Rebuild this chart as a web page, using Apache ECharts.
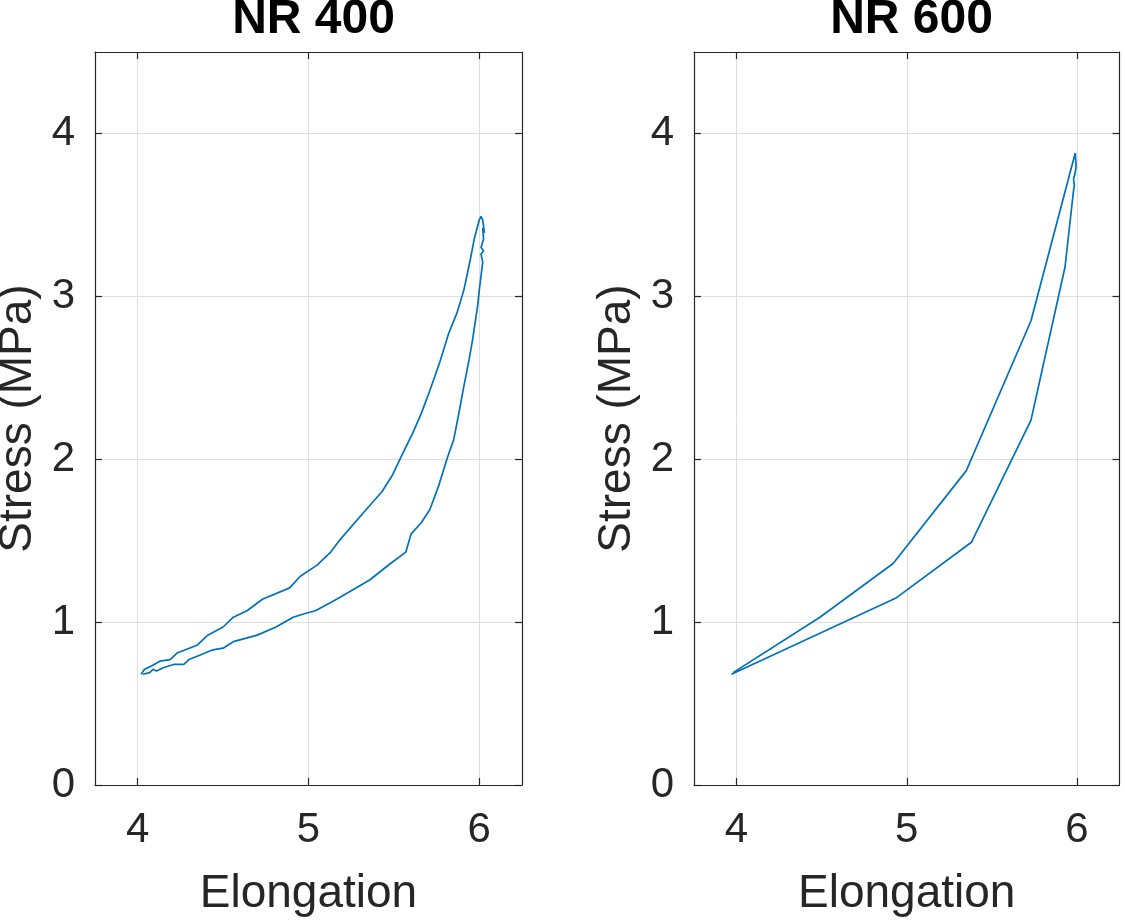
<!DOCTYPE html>
<html>
<head>
<meta charset="utf-8">
<script src="https://cdn.jsdelivr.net/npm/echarts@6/dist/echarts.min.js"></script>
<style>html,body{margin:0;padding:0;background:#fff}#c{width:1125px;height:923px}</style>
</head>
<body>
<div id="c"></div>
<script>
// ---- data ----
const titles = ['NR 400', 'NR 600'];
const xTicks = [4, 5, 6];
const yTicks = [0, 1, 2, 3, 4];

const nr400Elong = [4.02,4.04,4.08,4.13,4.19,4.23,4.28,4.35,4.41,4.50,4.56,4.64,4.73,4.89,4.95,5.05,5.13,5.18,5.32,5.43,5.49,5.54,5.61,5.66,5.71,5.77,5.82,5.87,5.91,5.95,5.97,6.00,6.01,6.02,6.03,6.02,6.025,6.01,6.025,6.01,6.02,6.00,5.99,5.96,5.94,5.91,5.88,5.85,5.81,5.76,5.71,5.66,5.60,5.57,5.48,5.36,5.18,5.13,5.04,4.97,4.91,4.81,4.70,4.56,4.50,4.44,4.37,4.30,4.27,4.21,4.15,4.11,4.09,4.07,4.03];
const nr400Stress = [0.68,0.71,0.73,0.76,0.77,0.81,0.83,0.86,0.92,0.97,1.03,1.07,1.14,1.21,1.28,1.35,1.43,1.50,1.67,1.80,1.90,2.01,2.16,2.28,2.42,2.60,2.77,2.90,3.04,3.24,3.35,3.47,3.49,3.47,3.39,3.42,3.35,3.30,3.28,3.26,3.21,3.04,2.94,2.73,2.61,2.45,2.28,2.12,2.00,1.83,1.69,1.61,1.54,1.43,1.36,1.26,1.15,1.12,1.07,1.05,1.03,0.97,0.92,0.88,0.84,0.83,0.80,0.77,0.74,0.74,0.72,0.70,0.71,0.69,0.68];

const nr600Elong = [3.98,4.49,4.92,5.35,5.73,5.99,5.995,5.99,5.98,5.985,5.98,5.93,5.73,5.38,4.94,3.97];
const nr600Stress = [0.69,1.03,1.36,1.93,2.85,3.88,3.80,3.76,3.72,3.68,3.65,3.18,2.24,1.49,1.15,0.68];

// ---- chart ----
const FONT = '"Liberation Sans", Arial, Helvetica, sans-serif';
const TXT = '#262626';
const zip = (a, b) => a.map((v, i) => [v, b[i]]);

const grids = [
  { left: 95, top: 52, width: 427, height: 733, containLabel: false, outerBoundsMode: 'none' },
  { left: 694, top: 52, width: 425.5, height: 733, containLabel: false, outerBoundsMode: 'none' }
];
const centers = [308.5, 906.5];

const xAxis = [], yAxis = [];
grids.forEach((g, i) => {
  xAxis.push({
    type: 'value', gridIndex: i, min: 3.75, max: 6.25, position: 'bottom',
    name: 'Elongation', nameLocation: 'middle', nameGap: 86,
    nameTextStyle: { fontFamily: FONT, fontSize: 46, color: TXT },
    axisLine: { show: true, onZero: false, lineStyle: { color: TXT, width: 1.2 } },
    axisTick: { show: true, inside: true, length: 7, customValues: xTicks, lineStyle: { color: TXT, width: 1.2 } },
    axisLabel: { show: true, customValues: xTicks, margin: 24, fontFamily: FONT, fontSize: 42, color: TXT },
    splitLine: { show: true, lineStyle: { color: '#dfdfdf', width: 1 } }
  });
  xAxis.push({
    type: 'value', gridIndex: i, min: 3.75, max: 6.25, position: 'top',
    axisLine: { show: true, onZero: false, lineStyle: { color: TXT, width: 1.2 } },
    axisTick: { show: true, inside: true, length: 7, customValues: xTicks, lineStyle: { color: TXT, width: 1.2 } },
    axisLabel: { show: false },
    splitLine: { show: false }
  });
  yAxis.push({
    type: 'value', gridIndex: i, min: 0, max: 4.5, position: 'left',
    name: 'Stress (MPa)', nameLocation: 'middle', nameGap: 54, nameRotate: 90,
    nameTextStyle: { fontFamily: FONT, fontSize: 46, color: TXT },
    axisLine: { show: true, onZero: false, lineStyle: { color: TXT, width: 1.2 } },
    axisTick: { show: true, inside: true, length: 7, customValues: yTicks, lineStyle: { color: TXT, width: 1.2 } },
    axisLabel: { show: true, customValues: yTicks, margin: 20, fontFamily: FONT, fontSize: 42, color: TXT },
    splitLine: { show: true, lineStyle: { color: '#dfdfdf', width: 1 } }
  });
  yAxis.push({
    type: 'value', gridIndex: i, min: 0, max: 4.5, position: 'right',
    axisLine: { show: true, onZero: false, lineStyle: { color: TXT, width: 1.2 } },
    axisTick: { show: true, inside: true, length: 7, customValues: yTicks, lineStyle: { color: TXT, width: 1.2 } },
    axisLabel: { show: false },
    splitLine: { show: false }
  });
});

const chart = echarts.init(document.getElementById('c'), null, { renderer: 'canvas' });
chart.setOption({
  animation: false,
  backgroundColor: '#ffffff',
  title: titles.map((t, i) => ({
    text: t, left: centers[i], top: -9, textAlign: 'center',
    textStyle: { fontFamily: FONT, fontSize: 48, fontWeight: 'bold', color: '#000' }
  })),
  grid: grids,
  xAxis: xAxis,
  yAxis: yAxis,
  series: [
    { type: 'line', xAxisIndex: 0, yAxisIndex: 0, data: zip(nr400Elong, nr400Stress),
      showSymbol: false, lineStyle: { color: '#0072BD', width: 1.7 }, silent: true },
    { type: 'line', xAxisIndex: 2, yAxisIndex: 2, data: zip(nr600Elong, nr600Stress),
      showSymbol: false, lineStyle: { color: '#0072BD', width: 1.7 }, silent: true }
  ]
});
</script>
</body>
</html>
